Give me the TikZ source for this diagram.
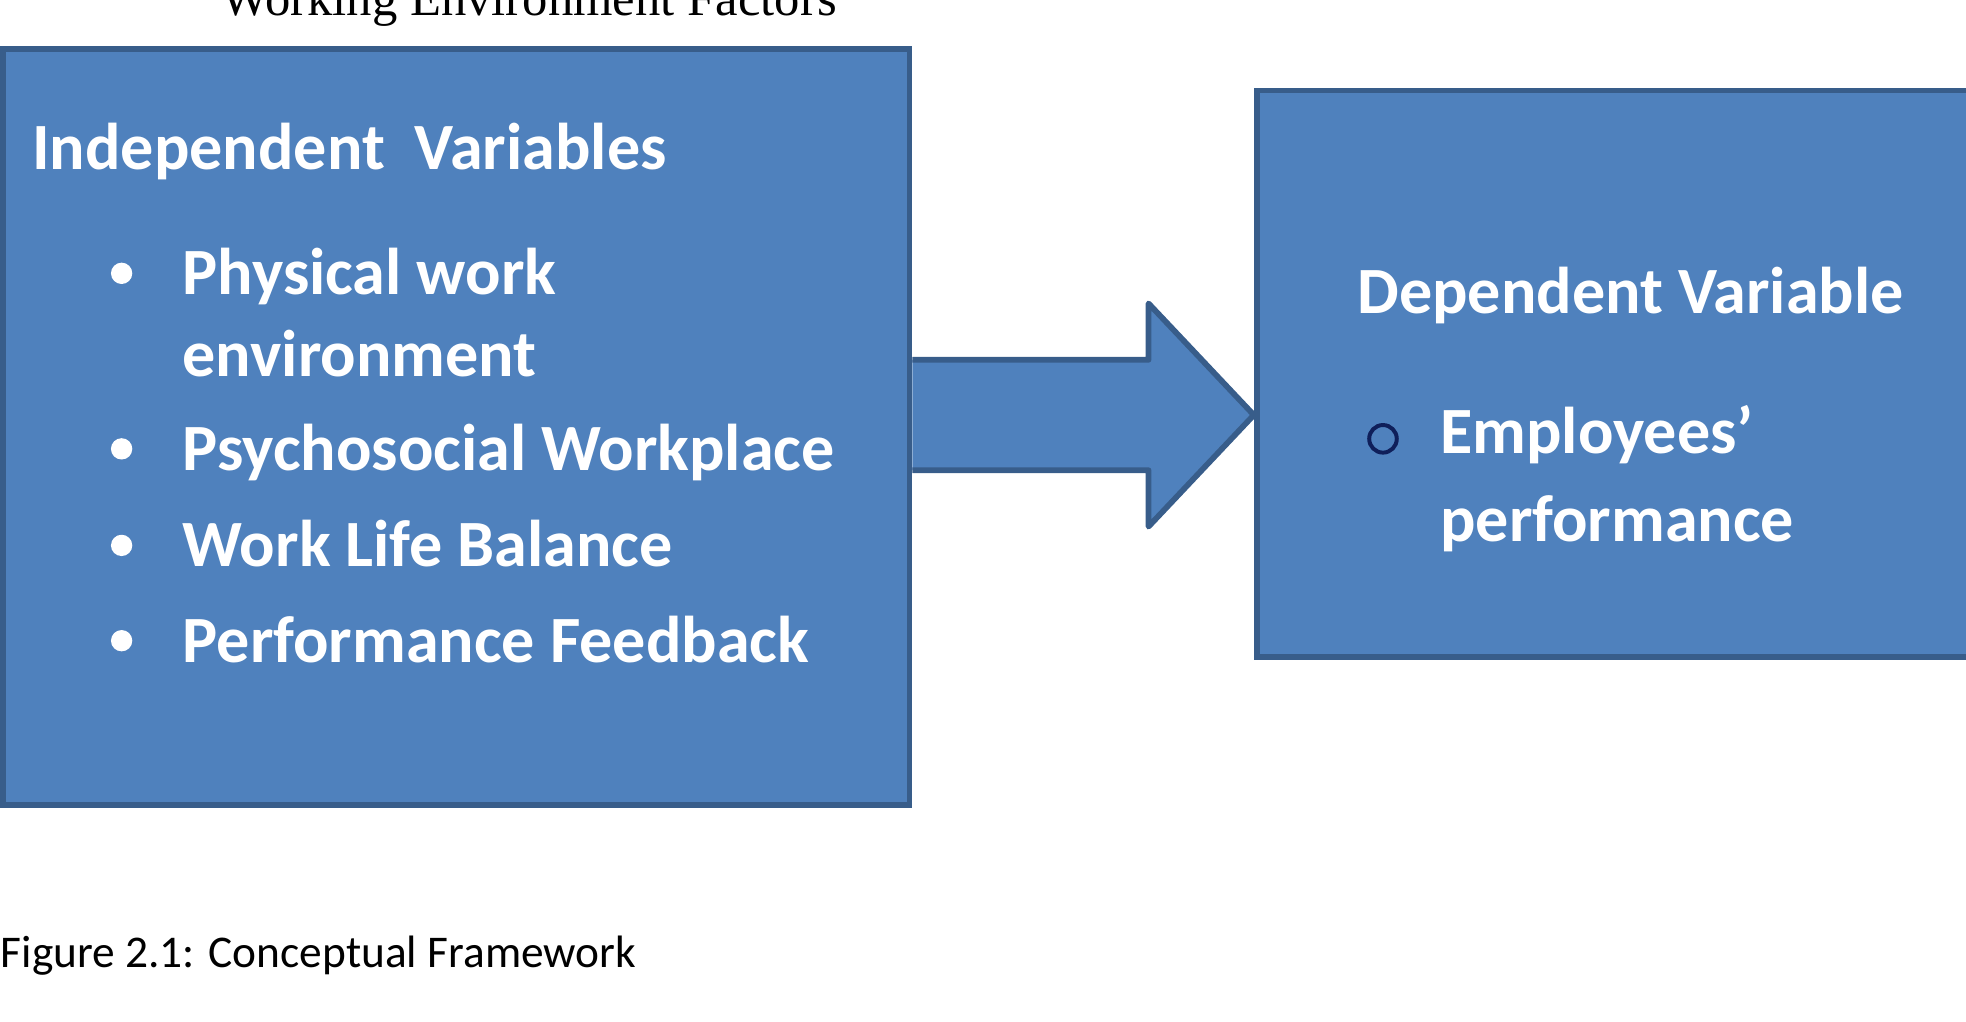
\documentclass[tikz,border=0pt]{standalone}
\usepackage{fontspec}
\setmainfont{Liberation Serif}
\newfontfamily\calib{Carlito}
\usetikzlibrary{positioning}
\definecolor{boxblue}{HTML}{4F81BD}
\definecolor{boxedge}{HTML}{385D8A}
\definecolor{navy}{HTML}{0F1F5A}
\begin{document}
\begin{tikzpicture}[
    box/.style={draw=boxedge, line width=1.3pt, fill=boxblue},
    head/.style={anchor=base west, text=white, inner sep=0pt, font=\calib\bfseries\fontsize{15}{18}\selectfont},
    item/.style={head, align=left},
    dot/.style={circle, fill=white, inner sep=0pt, minimum size=0.17cm},
  ]
    \useasboundingbox (0,0) rectangle (15.68,-8.15);
    \clip (0,0) rectangle (15.68,-8.15);

    % Title (cut at top)
    \node[anchor=base, inner sep=0pt, font=\fontsize{11.5}{13}\selectfont] (title) at (4.22,-0.12) {Working Environment Factors};

    % Boxes
    \node[box, anchor=north west, minimum width=7.23cm, minimum height=6.03cm, inner sep=0pt] (indepbox) at (0,-0.37) {};
    \node[box, anchor=north west, minimum width=6cm, minimum height=4.52cm, inner sep=0pt] (depbox) at (10,-0.7) {};

    % Block arrow
    \draw[box, line join=round] (indepbox.east |- 0,-2.87) -- (9.16,-2.87) -- (9.16,-2.42)
      -- (depbox.west |- 0,-3.31) -- (9.16,-4.2) -- (9.16,-3.75) -- (indepbox.east |- 0,-3.75);

    % Left box text
    \node[head] (indep) at (0.25,-1.35) {Independent\ \ Variables};
    \node[item] (phys) at (1.45,-2.35) {Physical work};
    \node[item] (env) at (1.45,-3.0) {environment};
    \node[item] (psy) at (1.45,-3.75) {Psychosocial Workplace};
    \node[item] (wlb) at (1.45,-4.52) {Work Life Balance};
    \node[item] (pf) at (1.45,-5.28) {Performance Feedback};
    \foreach \n in {phys,psy,wlb,pf}
      \node[dot] at ([xshift=-0.48cm,yshift=0.17cm]\n.base west) {};

    % Right box text
    \node[head] (dep) at (10.82,-2.5) {Dependent Variable};
    \node[item] (emp) at (11.48,-3.62) {Employees’};
    \node[item] (perf) at (11.48,-4.32) {performance};
    \draw[navy, line width=0.9pt] ([xshift=-0.45cm,yshift=0.12cm]emp.base west) circle (0.11cm);

    % Caption
    \node[anchor=base west, inner sep=0pt, font=\calib\fontsize{10.3}{12}\selectfont] (cap) at (0,-7.72) {Figure 2.1: Conceptual Framework};
\end{tikzpicture}
\end{document}
